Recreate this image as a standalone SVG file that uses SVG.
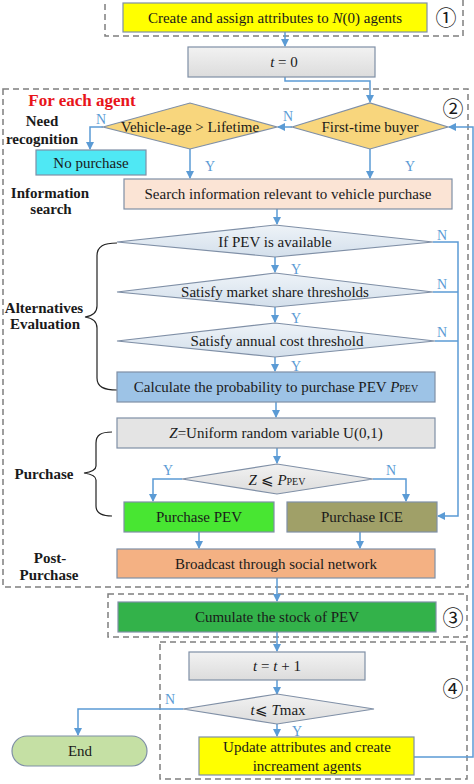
<svg xmlns="http://www.w3.org/2000/svg" width="474" height="784" viewBox="0 0 474 784">
<style>
text{font-family:"Liberation Serif","Times New Roman",serif;font-size:15px;fill:#1a1a1a;text-anchor:middle}
.b{stroke:#7f8fa6;stroke-width:1.2}
.lbl{font-weight:bold;font-size:15px}
.yn{fill:#5b9bd5;font-size:14px;text-anchor:start}
.dash{fill:none;stroke:#7f7f7f;stroke-width:1.5;stroke-dasharray:6,4}
.c{stroke:#5b9bd5;stroke-width:1.5;fill:none}
.num{font-family:"Noto Sans CJK SC","DejaVu Sans",sans-serif;font-size:21px}
.brace{fill:none;stroke:#222;stroke-width:1.2}
</style>
<defs>
<marker id="ah" markerWidth="8" markerHeight="8" refX="7" refY="4" orient="auto" markerUnits="userSpaceOnUse">
<path d="M0,0 L8,4 L0,8 Z" fill="#5b9bd5"/>
</marker>
<linearGradient id="gd" x1="0" y1="0" x2="0" y2="1"><stop offset="0" stop-color="#eef3f8"/><stop offset="1" stop-color="#d3dfeb"/></linearGradient>
<linearGradient id="gg" x1="0" y1="0" x2="0" y2="1"><stop offset="0" stop-color="#f2f2f2"/><stop offset="1" stop-color="#dcdcdc"/></linearGradient>
</defs>
<rect width="474" height="784" fill="#fff"/>

<g id="regions">
<rect class="dash" x="105" y="-2" width="358" height="38"/>
<rect class="dash" x="3" y="89" width="465" height="498"/>
<rect class="dash" x="108" y="594" width="359" height="43"/>
<rect class="dash" x="160" y="642" width="307" height="137"/>
<text class="num" x="446" y="25">①</text>
<text class="num" x="453" y="116">②</text>
<text class="num" x="453" y="625">③</text>
<text class="num" x="453" y="696">④</text>
</g>

<g id="stage-labels">
<text x="82" y="106" style="fill:#e8141a;font-weight:bold;font-size:17px">For each agent</text>
<text class="lbl" x="42" y="126">Need</text>
<text class="lbl" x="42" y="144">recognition</text>
<text class="lbl" x="50" y="198">Information</text>
<text class="lbl" x="51" y="214">search</text>
<text class="lbl" x="44" y="313">Alternatives</text>
<text class="lbl" x="45" y="329">Evaluation</text>
<text class="lbl" x="44" y="479">Purchase</text>
<text class="lbl" x="50" y="563">Post-</text>
<text class="lbl" x="49" y="580">Purchase</text>
<path class="brace" d="M117,243 C104,243 97,246 97,256 L97,306 C97,313 92,316 85,317 C92,318 97,321 97,328 L97,378 C97,387 104,390 117,390"/>
<path class="brace" d="M112,432 C101,432 96,435 96,443 L96,466 C96,470 91,472 84,473 C91,474 96,476 96,480 L96,506 C96,513 101,516 112,516"/>
</g>

<g id="connectors">
<path class="c" d="M285,32 V46" marker-end="url(#ah)"/>
<path class="c" d="M285,77 V81 H370 V102" marker-end="url(#ah)"/>
<path class="c" d="M292,127 H278" marker-end="url(#ah)"/>
<path class="c" d="M103,127 H90 V149" marker-end="url(#ah)"/>
<path class="c" d="M190,149 V178" marker-end="url(#ah)"/>
<path class="c" d="M370,149 V178" marker-end="url(#ah)"/>
<path class="c" d="M277,209 V224" marker-end="url(#ah)"/>
<path class="c" d="M275,257 V272" marker-end="url(#ah)"/>
<path class="c" d="M275,307 V322" marker-end="url(#ah)"/>
<path class="c" d="M275,357 V371" marker-end="url(#ah)"/>
<path class="c" d="M433,242 H458 V516 H438" marker-end="url(#ah)"/>
<path class="c" d="M433,292 H458"/>
<path class="c" d="M435,341 H458"/>
<path class="c" d="M276,402 V417" marker-end="url(#ah)"/>
<path class="c" d="M277,448 V463" marker-end="url(#ah)"/>
<path class="c" d="M182,479 H153 V501" marker-end="url(#ah)"/>
<path class="c" d="M373,479 H406 V501" marker-end="url(#ah)"/>
<path class="c" d="M199,532 V548" marker-end="url(#ah)"/>
<path class="c" d="M360,532 V548" marker-end="url(#ah)"/>
<path class="c" d="M277,578 V601" marker-end="url(#ah)"/>
<path class="c" d="M277,632 V651" marker-end="url(#ah)"/>
<path class="c" d="M277,680 V694" marker-end="url(#ah)"/>
<path class="c" d="M183,709 H78 V735" marker-end="url(#ah)"/>
<path class="c" d="M277,724 V736" marker-end="url(#ah)"/>
<path class="c" d="M414,757 H473 V127 H449" marker-end="url(#ah)"/>
<text class="yn" x="283" y="121">N</text>
<text class="yn" x="96" y="124">N</text>
<text class="yn" x="205" y="171">Y</text>
<text class="yn" x="405" y="171">Y</text>
<text class="yn" x="437" y="240">N</text>
<text class="yn" x="437" y="289">N</text>
<text class="yn" x="437" y="337">N</text>
<text class="yn" x="291" y="274">Y</text>
<text class="yn" x="291" y="323">Y</text>
<text class="yn" x="291" y="371">Y</text>
<text class="yn" x="163" y="475">Y</text>
<text class="yn" x="386" y="475">N</text>
<text class="yn" x="165" y="704">N</text>
<text class="yn" x="292" y="736">Y</text>
</g>

<g id="n-create"><rect class="b" x="123" y="3" width="304" height="29" fill="#ffff00" stroke="#8a8a8a"/><text x="275" y="23">Create and assign attributes to <tspan font-style="italic">N</tspan>(0) agents</text></g>
<g id="n-t0"><rect class="b" x="188" y="47" width="187" height="30" fill="url(#gg)"/><text x="284" y="67"><tspan font-style="italic">t</tspan> = 0</text></g>
<g id="n-vehicle-age"><polygon class="b" points="103,127 190,103 277,127 190,149" fill="#f8d67d" stroke="#a09070"/><text x="190" y="132">Vehicle-age &gt; Lifetime</text></g>
<g id="n-first-time"><polygon class="b" points="292,127 370,103 448,127 370,149" fill="#f8d67d" stroke="#a09070"/><text x="370" y="132">First-time buyer</text></g>
<g id="n-no-purchase"><rect class="b" x="36" y="150" width="110" height="25" fill="#4fe8f4"/><text x="91" y="168">No purchase</text></g>
<g id="n-search"><rect class="b" x="124" y="179" width="328" height="30" fill="#fbe4d5"/><text x="288" y="199">Search information relevant to vehicle purchase</text></g>
<g id="n-pev-available"><polygon class="b" points="117,242 275,225 433,242 275,257" fill="url(#gd)" stroke="#5a6e84"/><text x="275" y="247">If PEV is available</text></g>
<g id="n-market-share"><polygon class="b" points="117,292 275,273 433,292 275,307" fill="url(#gd)" stroke="#5a6e84"/><text x="275" y="297">Satisfy market share thresholds</text></g>
<g id="n-annual-cost"><polygon class="b" points="117,341 275,323 435,341 275,357" fill="url(#gd)" stroke="#5a6e84"/><text x="277" y="346">Satisfy annual cost threshold</text></g>
<g id="n-calculate"><rect class="b" x="117" y="372" width="318" height="30" fill="#9dc3e6"/><text x="276" y="392">Calculate the probability to purchase PEV <tspan font-style="italic">P</tspan><tspan font-size="10">PEV</tspan></text></g>
<g id="n-uniform"><rect class="b" x="117" y="418" width="318" height="30" fill="#e4e4e4"/><text x="276" y="438"><tspan font-style="italic">Z</tspan>=Uniform random variable U(0,1)</text></g>
<g id="n-compare"><polygon class="b" points="182,479 277,464 373,479 277,494" fill="url(#gg)" stroke="#6a7888"/><text x="277" y="485"><tspan font-style="italic">Z</tspan> ⩽ <tspan font-style="italic">P</tspan><tspan font-size="10">PEV</tspan></text></g>
<g id="n-purchase-pev"><rect class="b" x="124" y="502" width="150" height="30" fill="#48e632"/><text x="199" y="522">Purchase PEV</text></g>
<g id="n-purchase-ice"><rect class="b" x="287" y="502" width="150" height="30" fill="#a0a068"/><text x="362" y="522">Purchase ICE</text></g>
<g id="n-broadcast"><rect class="b" x="117" y="549" width="318" height="29" fill="#f4b183"/><text x="276" y="569">Broadcast through social network</text></g>
<g id="n-cumulate"><rect class="b" x="118" y="602" width="318" height="30" fill="#33b24a"/><text x="277" y="622">Cumulate the stock of PEV</text></g>
<g id="n-t-increment"><rect class="b" x="189" y="652" width="176" height="28" fill="url(#gg)"/><text x="277" y="671"><tspan font-style="italic">t</tspan> = <tspan font-style="italic">t</tspan> + 1</text></g>
<g id="n-tmax"><polygon class="b" points="183,709 277,694 374,709 277,724" fill="url(#gg)" stroke="#6a7888"/><text x="278" y="715"><tspan font-style="italic">t</tspan>⩽ <tspan font-style="italic">T</tspan>max</text></g>
<g id="n-end"><rect class="b" x="12" y="736" width="135" height="30" rx="15" fill="#c5e0a4" stroke="#5a6e84"/><text x="80" y="756">End</text></g>
<g id="n-update"><rect class="b" x="199" y="737" width="215" height="38" fill="#ffff00"/><text x="307" y="752">Update attributes and  create</text><text x="307" y="771">increament agents</text></g>
</svg>
